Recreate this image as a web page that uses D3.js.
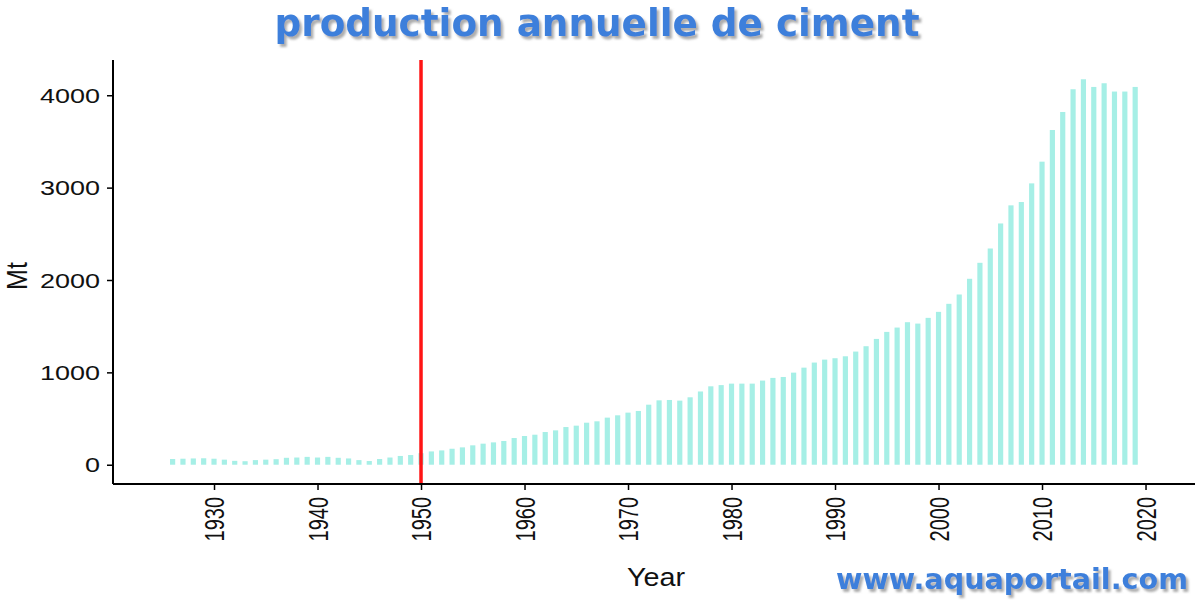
<!DOCTYPE html>
<html>
<head>
<meta charset="utf-8">
<script src="https://cdn.jsdelivr.net/npm/d3@7"></script>
<style>
  html, body { margin: 0; padding: 0; background: #fff; }
  svg { display: block; }
</style>
</head>
<body>
<svg id="chart" width="1200" height="600"></svg>
<script>
// ---- data ----
const years = [1926,1927,1928,1929,1930,1931,1932,1933,1934,1935,1936,1937,1938,1939,
  1940,1941,1942,1943,1944,1945,1946,1947,1948,1949,1950,1951,1952,1953,1954,1955,1956,
  1957,1958,1959,1960,1961,1962,1963,1964,1965,1966,1967,1968,1969,1970,1971,1972,1973,
  1974,1975,1976,1977,1978,1979,1980,1981,1982,1983,1984,1985,1986,1987,1988,1989,1990,
  1991,1992,1993,1994,1995,1996,1997,1998,1999,2000,2001,2002,2003,2004,2005,2006,2007,
  2008,2009,2010,2011,2012,2013,2014,2015,2016,2017,2018,2019];
const production = [62,65,68,70,65,55,42,38,50,55,60,75,78,85,
  78,85,75,68,50,40,62,78,95,105,125,144,155,173,188,210,228,
  242,257,289,311,325,354,372,408,423,455,470,510,535,564,582,650,697,
  701,694,730,793,849,862,878,878,878,911,940,950,997,1051,1106,1138,1153,
  1174,1225,1283,1362,1438,1485,1543,1528,1590,1655,1742,1843,2013,2186,2341,2612,2808,
  2844,3046,3281,3624,3819,4065,4173,4090,4130,4040,4040,4090];
const xTicks = [1930,1940,1950,1960,1970,1980,1990,2000,2010,2020];
const yTicks = [0,1000,2000,3000,4000];
const markerYear = 1950;
const titleText = "production annuelle de ciment";
const xLabel = "Year";
const yLabel = "Mt";
const watermark = "www.aquaportail.com";

(function () {
// ---- layout ----
const svg = d3.select("#chart");
const mLeft = 113, mRight = 1195, mTop = 60, mBottom = 484;
const stretch = 1.35;

const defs = svg.append("defs");
defs.append("filter").attr("id", "shadow")
  .attr("x", "-5%").attr("y", "-30%").attr("width", "110%").attr("height", "160%")
  .append("feDropShadow")
  .attr("dx", 2.5).attr("dy", 3).attr("stdDeviation", 0.8)
  .attr("flood-color", "#777").attr("flood-opacity", 0.6);

const x = d3.scaleLinear().domain([1920.24, 2024.78]).range([mLeft, mRight]);
const y = d3.scaleLinear().domain([-208.65, 4381.65]).range([mBottom, mTop]);
const barW = (x(1951) - x(1950)) * 0.5;

// bars
svg.append("g").selectAll("rect")
  .data(years.map((yr, i) => ({yr, v: production[i]})))
  .join("rect")
  .attr("x", d => x(d.yr) - barW / 2)
  .attr("width", barW)
  .attr("y", d => y(d.v))
  .attr("height", d => y(0) - y(d.v))
  .attr("fill", "#a6efe6");

// red marker line
svg.append("line")
  .attr("x1", x(markerYear)).attr("x2", x(markerYear))
  .attr("y1", mTop).attr("y2", mBottom)
  .attr("stroke", "#ff1414").attr("stroke-width", 3.5);

// axes
const font = "'Liberation Sans', Arial, sans-serif";
const yAxis = svg.append("g")
  .attr("transform", `translate(${mLeft},0)`)
  .call(d3.axisLeft(y).tickValues(yTicks).tickSize(6).tickSizeOuter(0).tickFormat(d3.format("d")));
yAxis.select(".domain").attr("stroke", "#000").attr("stroke-width", 2)
  .attr("d", `M0,${mTop}V${mBottom}`);
yAxis.selectAll(".tick line").attr("stroke", "#000").attr("stroke-width", 1.5);
yAxis.selectAll(".tick text")
  .attr("font-family", font).attr("font-size", 20).attr("fill", "#111")
  .attr("x", -13 / stretch).attr("dy", "0.36em")
  .attr("transform", `scale(${stretch},1)`);

const xAxis = svg.append("g")
  .attr("transform", `translate(0,${mBottom})`)
  .call(d3.axisBottom(x).tickValues(xTicks).tickSize(6).tickSizeOuter(0).tickFormat(d3.format("d")));
xAxis.select(".domain").attr("stroke", "#000").attr("stroke-width", 2)
  .attr("d", `M${mLeft},0H${mRight}`);
xAxis.selectAll(".tick line").attr("stroke", "#000").attr("stroke-width", 1.5);
xAxis.selectAll(".tick text")
  .attr("font-family", font).attr("font-size", 20).attr("fill", "#111")
  .attr("text-anchor", "end")
  .attr("x", -13).attr("y", 0).attr("dy", "0.36em")
  .attr("transform", `scale(${stretch},1) rotate(-90)`);

// axis titles
svg.append("text")
  .attr("transform", `translate(656,586) scale(1.15,1)`)
  .attr("text-anchor", "middle")
  .attr("font-family", font).attr("font-size", 25).attr("fill", "#111")
  .text(xLabel);
svg.append("text")
  .attr("transform", `translate(27,276) scale(1.15,1) rotate(-90)`)
  .attr("text-anchor", "middle")
  .attr("font-family", font).attr("font-size", 25).attr("fill", "#111")
  .text(yLabel);

// title & watermark with drop shadow
function shadowText(str, cx, by, size, len, family) {
  svg.append("text")
    .attr("x", cx).attr("y", by)
    .attr("text-anchor", "middle")
    .attr("font-family", family).attr("font-weight", "bold").attr("font-size", size)
    .attr("textLength", len).attr("lengthAdjust", "spacingAndGlyphs")
    .attr("fill", "#3d7fdb")
    .attr("filter", "url(#shadow)")
    .text(str);
}
shadowText(titleText, 597, 36, 37, 645, "'DejaVu Sans', Verdana, sans-serif");
shadowText(watermark, 1012, 589, 29, 352, "'DejaVu Sans', Verdana, sans-serif");
})();
</script>
</body>
</html>
